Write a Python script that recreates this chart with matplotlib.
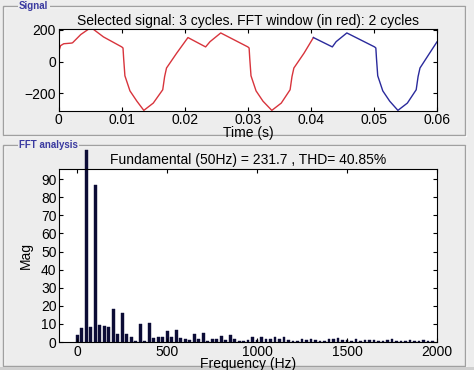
import numpy as np
import matplotlib
matplotlib.use('Agg')
import matplotlib.pyplot as plt
from matplotlib.patches import Rectangle

plt.rcParams['font.family'] = ['Liberation Sans', 'DejaVu Sans']

# ---------------- data ----------------
sig_time = [0.0, 0.0003, 0.0008, 0.0020, 0.0022, 0.0035, 0.0047, 0.0055, 0.0071,
            0.0100, 0.0102, 0.0103, 0.0105, 0.0113, 0.0124, 0.0135, 0.0150,
            0.0165, 0.0168, 0.0171, 0.0187, 0.0205, 0.0233, 0.0240, 0.0257,
            0.0300, 0.0302, 0.0303, 0.0305, 0.0313, 0.0324, 0.0338, 0.0353,
            0.0367, 0.0370, 0.0373, 0.0389, 0.0404, 0.0434, 0.0440, 0.0457,
            0.0501, 0.0503, 0.0504, 0.0506, 0.0514, 0.0525, 0.0538, 0.0553,
            0.0567, 0.0570, 0.0573, 0.0589, 0.0600]
sig_value = [62, 100, 112, 116, 118, 170, 203, 203, 155,
             92, 85, 20, -90, -185, -250, -308, -262,
             -178, -95, -41, 52, 151, 92, 125, 180,
             92, 85, 20, -90, -185, -250, -308, -262,
             -178, -95, -41, 52, 151, 92, 125, 180,
             92, 85, 20, -90, -185, -250, -308, -262,
             -178, -95, -41, 57, 124]
fft_window_end = 0.0404

harm_step_hz = 25
harm_mag = [3.7, 7.9, 106, 8.5, 87, 9.4, 9.0, 8.3, 18, 4.6,
            16.3, 4.2, 2.6, 0.6, 10.1, 0.5, 10.5, 2.2, 3.0, 2.6,
            5.9, 3.0, 6.8, 2.4, 1.6, 1.3, 4.6, 1.5, 5.0, 0.5,
            1.4, 1.4, 3.5, 1.3, 4.0, 1.4, 0.7, 0.5, 1.3, 2.8,
            1.0, 2.5, 1.5, 1.5, 2.5, 1.5, 2.5, 1.2, 0.4, 0.4,
            1.5, 1.0, 1.5, 1.0, 0.8, 0.8, 1.5, 1.5, 2.0, 1.2,
            1.0, 0.5, 1.5, 0.7, 1.2, 1.0, 1.0, 0.7, 0.7, 1.2,
            1.5, 0.4, 0.7, 0.7, 1.2, 0.7, 0.8, 1.0, 0.8, 0.8]

sig_ticks_x = [0, 0.01, 0.02, 0.03, 0.04, 0.05, 0.06]
sig_ticklabels_x = ['0', '0.01', '0.02', '0.03', '0.04', '0.05', '0.06']
sig_ticks_y = [-200, 0, 200]
fft_ticks_x = [0, 500, 1000, 1500, 2000]
fft_ticks_y = [0, 10, 20, 30, 40, 50, 60, 70, 80, 90]

title_sig = 'Selected signal: 3 cycles. FFT window (in red): 2 cycles'
title_fft = 'Fundamental (50Hz) = 231.7 , THD= 40.85%'

# ---------------- figure ----------------
W, H = 474, 370
FS = 10
fig = plt.figure(figsize=(W / 100, H / 100), dpi=100, facecolor='#ededed')

def fr(x0, y0, x1, y1):
    return [x0 / W, 1 - y1 / H, (x1 - x0) / W, (y1 - y0) / H]

# panels (etched borders)
for (x0, y0, x1, y1) in [(3, 6, 465, 135), (3, 145, 465, 366)]:
    b = fr(x0, y0, x1, y1)
    fig.add_artist(Rectangle((b[0] + 1 / W, b[1] - 1 / H), b[2], b[3], transform=fig.transFigure,
                             fill=False, edgecolor='white', lw=1, zorder=0))
    fig.add_artist(Rectangle((b[0], b[1]), b[2], b[3], transform=fig.transFigure,
                             fill=False, edgecolor='#a0a0a0', lw=1, zorder=0))

fig.text(19 / W, 1 - 6 / H, 'Signal', fontsize=7, color='#3a3aa0', fontweight='bold',
         va='center', ha='left', bbox=dict(facecolor='#ededed', edgecolor='none', pad=1))
fig.text(19 / W, 1 - 145 / H, 'FFT analysis', fontsize=7, color='#3a3aa0', fontweight='bold',
         va='center', ha='left', bbox=dict(facecolor='#ededed', edgecolor='none', pad=1))
fig.add_artist(Rectangle((0, 0), 1, 3 / H, transform=fig.transFigure, facecolor='#cfcfcf',
                         edgecolor='none', zorder=0))

# ---- signal axes
ax1 = fig.add_axes(fr(58.7, 29.3, 437, 110.7))
t = np.array(sig_time)
v = np.array(sig_value)
red = t <= fft_window_end
blue = t >= fft_window_end
ax1.plot(t[red], v[red], color='#d8343c', lw=1.0)
ax1.plot(t[blue], v[blue], color='#2a2a9c', lw=1.0)
ax1.set_xlim(0, 0.06)
ax1.set_ylim(-310, 203)
ax1.set_xticks(sig_ticks_x)
ax1.set_xticklabels(sig_ticklabels_x)
ax1.set_yticks(sig_ticks_y)
ax1.set_title(title_sig, fontsize=FS, pad=3)
ax1.set_xlabel('Time (s)', fontsize=FS, labelpad=-1)

# ---- FFT axes
ax2 = fig.add_axes(fr(59.3, 169.3, 437, 342))
freq = np.arange(len(harm_mag)) * harm_step_hz
bars = ax2.bar(freq, harm_mag, width=15, color='#0c0c36', edgecolor='#0c0c36', lw=0.3)
for b in bars:
    b.set_clip_on(False)
ax2.set_xlim(-100, 2000)
ax2.set_ylim(0, 95.5)
ax2.set_xticks(fft_ticks_x)
ax2.set_yticks(fft_ticks_y)
ax2.set_title(title_fft, fontsize=FS, pad=4)
ax2.set_xlabel('Frequency (Hz)', fontsize=FS, labelpad=-1)
ax2.set_ylabel('Mag', fontsize=FS, labelpad=6)

for ax in (ax1, ax2):
    ax.set_facecolor('white')
    ax.tick_params(direction='in', top=True, right=True, labelsize=FS, length=3, width=0.8, pad=2)
    for s in ax.spines.values():
        s.set_linewidth(0.8)

fig.savefig('out.png', dpi=100, facecolor=fig.get_facecolor())
